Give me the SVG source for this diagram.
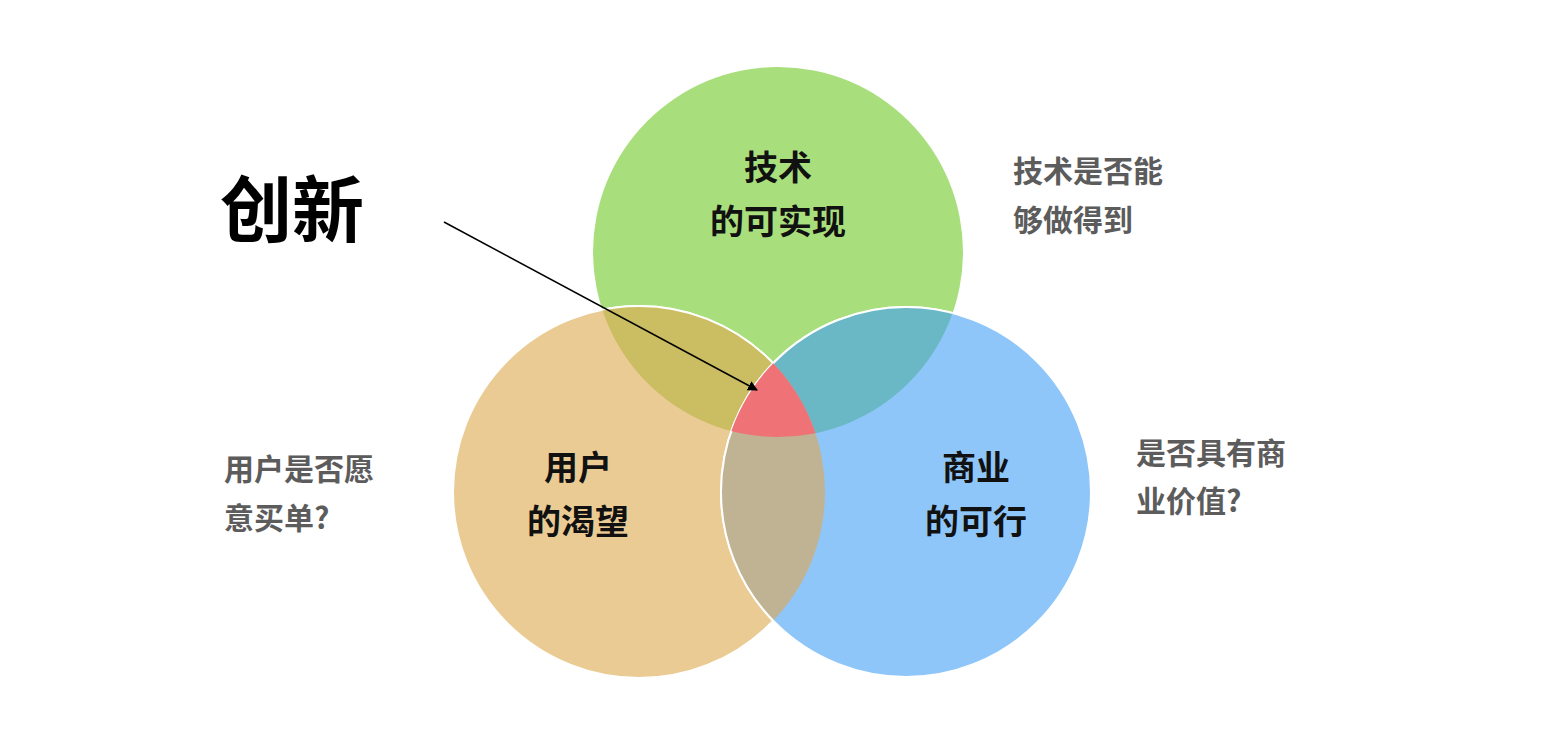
<svg xmlns="http://www.w3.org/2000/svg" width="1568" height="756" viewBox="0 0 1568 756">
<style>
.t{font-family:"Noto Sans CJK SC",sans-serif;font-weight:bold;font-size:34px;fill:#111;text-anchor:middle}
.g{font-family:"Noto Sans CJK SC",sans-serif;font-weight:bold;font-size:30px;fill:#5c5c5c}
.c{stroke:#fff;stroke-width:2}
</style>
<defs>
<clipPath id="cg"><circle cx="778" cy="252" r="185"/></clipPath>
<clipPath id="co"><circle cx="639" cy="492" r="186"/></clipPath>
<clipPath id="cb"><circle cx="906" cy="492" r="185"/></clipPath>
<marker id="ah" viewBox="0 0 10 10" refX="9" refY="5" markerWidth="10" markerHeight="10" orient="auto" markerUnits="userSpaceOnUse"><path d="M0,0L10,5L0,10z" fill="#000"/></marker>
</defs>
<rect width="1568" height="756" fill="#fff"/>
<g id="circles">
<circle id="green" cx="778" cy="252" r="185" fill="#a8df7c"/>
<circle id="orange" class="c" cx="639" cy="492" r="186" fill="#eacb94"/>
<circle id="blue" class="c" cx="906" cy="492" r="185" fill="#8fc6f9"/>
<g clip-path="url(#cg)"><circle class="c" cx="639" cy="492" r="186" fill="#cabd62"/><circle class="c" cx="906" cy="492" r="185" fill="#6ab8c6"/></g>
<g clip-path="url(#co)"><circle class="c" cx="906" cy="492" r="185" fill="#c0b394"/><g clip-path="url(#cg)"><circle cx="906" cy="492" r="185" fill="#ef7277"/></g></g>
</g>
<g id="connectors"><line x1="444" y1="222" x2="757" y2="390" stroke="#000" stroke-width="1.5" marker-end="url(#ah)"/></g>
<g id="innovation"><text x="220" y="236" font-family="Noto Sans CJK SC,sans-serif" font-weight="bold" font-size="72" fill="#000">创新</text></g>
<g id="tech"><text class="t" x="778" y="180">技术</text><text class="t" x="778" y="234">的可实现</text></g>
<g id="user"><text class="t" x="578" y="480">用户</text><text class="t" x="578" y="534">的渴望</text></g>
<g id="biz"><text class="t" x="976" y="480">商业</text><text class="t" x="976" y="534">的可行</text></g>
<g id="notes">
<text class="g" x="1013" y="182">技术是否能</text><text class="g" x="1013" y="231">够做得到</text>
<text class="g" x="224" y="480">用户是否愿</text><text class="g" x="224" y="529">意买单?</text>
<text class="g" x="1136" y="464">是否具有商</text><text class="g" x="1136" y="512">业价值?</text>
</g>
</svg>
